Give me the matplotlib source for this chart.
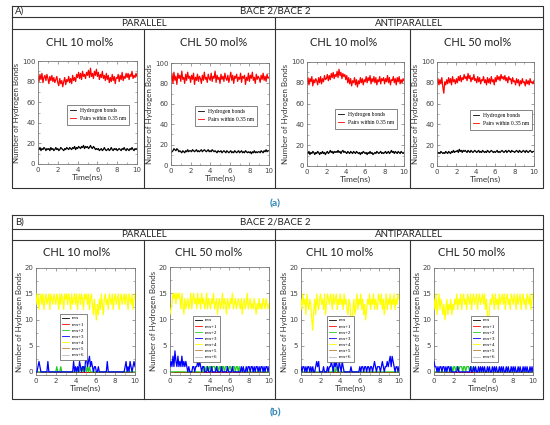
import numpy as np
import matplotlib
matplotlib.use('Agg')
import matplotlib.pyplot as plt
from matplotlib.lines import Line2D
from matplotlib.ticker import MultipleLocator

# ---------------- data (time step 0.1 ns, 0..10 ns) ----------------
time_step = 0.1

# Panel A: Hydrogen bonds (black) and pairs within 0.35 nm (red)
par10_pairs = [85,80,87,82,88,79,84,86,81,87, 83,78,85,81,86,80,84,79,82,85,
               79,76,83,78,81,75,80,84,77,82, 80,85,79,83,78,86,81,84,80,87,
               84,89,83,88,82,90,85,87,83,89, 86,91,84,93,85,88,83,90,86,92,
               85,89,82,87,84,90,83,86,81,88, 82,86,79,84,80,87,81,85,78,84,
               83,87,80,86,82,89,81,85,83,88, 84,88,82,87,85,90,83,86,84,88, 85]
par10_hb = [15,14,16,13,15,14,16,15,13,15, 14,15,13,16,14,15,13,14,16,14,
            15,13,14,16,15,14,13,15,14,16, 15,14,16,15,14,16,15,17,14,16,
            15,17,16,15,17,16,18,15,17,16, 17,15,16,18,16,15,17,16,14,15,
            14,15,13,14,15,13,14,16,14,13, 14,15,13,14,16,14,13,15,14,15,
            13,14,15,14,13,15,14,16,14,13, 15,14,13,15,14,16,14,13,15,14, 15]
par50_pairs = [84,89,80,91,83,87,79,90,85,88, 82,92,84,86,80,89,83,91,85,87,
               81,88,84,90,79,86,83,89,82,87, 85,80,88,83,91,84,86,81,89,85,
               83,90,82,87,85,92,81,88,84,86, 80,89,84,87,82,90,85,83,88,81,
               86,91,83,88,80,87,85,89,82,86, 84,90,81,87,85,88,79,86,83,90,
               82,88,85,91,83,86,80,89,84,87, 85,81,88,84,90,83,87,82,89,85, 86]
par50_hb = [12,13,14,16,15,14,16,15,13,14, 13,12,14,13,12,14,13,15,13,14,
            14,13,15,14,13,14,15,13,14,13, 14,15,13,14,15,14,13,14,15,13,
            14,13,15,14,13,14,13,12,14,13, 13,14,12,13,14,13,12,14,13,12,
            13,14,12,13,12,14,13,12,13,14, 12,13,14,12,13,12,14,13,12,13,
            12,13,11,13,12,14,12,13,12,13, 13,12,14,13,12,14,13,15,13,14, 14]
anti10_pairs = [80,85,78,84,81,86,77,83,80,84, 82,78,85,80,86,79,84,81,87,83,
                84,88,82,87,83,89,85,90,84,88, 86,91,85,93,87,90,84,89,86,88,
                83,87,80,85,79,84,77,82,80,85, 78,83,76,82,79,85,80,84,78,83,
                81,86,80,85,82,87,79,84,81,86, 80,85,78,83,81,86,79,84,82,85,
                79,84,81,87,80,85,78,83,82,86, 80,84,78,85,81,86,79,83,80,84, 82]
anti10_hb = [13,12,14,11,13,12,14,13,11,13, 12,14,13,11,13,12,14,12,13,11,
             13,14,12,13,15,13,14,12,14,13, 14,13,15,13,14,12,14,15,13,14,
             13,12,14,13,12,14,13,12,14,13, 12,14,13,12,13,11,13,12,14,13,
             12,13,11,13,12,14,12,13,11,12, 13,12,14,13,12,13,14,12,13,12,
             13,14,12,13,14,12,13,15,13,14, 12,14,13,12,14,13,12,14,13,12, 13]
anti50_pairs = [80,84,78,83,79,85,76,70,81,78, 83,79,85,80,84,78,86,81,83,79,
                84,80,86,82,87,81,85,83,88,84, 86,82,89,84,87,81,85,83,88,82,
                84,80,86,81,85,79,83,82,86,80, 83,78,85,80,84,79,86,81,83,78,
                85,81,87,83,86,82,88,84,86,83, 87,82,85,80,86,83,84,79,85,81,
                82,78,84,80,83,77,82,79,84,80, 81,77,83,79,82,78,84,80,81,79, 82]
anti50_hb = [14,12,13,12,14,13,12,13,12,14, 13,12,14,13,12,14,13,15,13,14,
             14,15,13,16,14,15,13,15,14,15, 14,13,15,14,13,15,14,13,14,15,
             14,13,14,15,13,14,13,15,14,13, 14,13,15,14,13,14,15,14,13,14,
             13,14,15,13,14,13,14,15,14,13, 14,15,13,14,15,14,13,15,14,14,
             13,14,15,14,13,15,14,13,14,15, 14,13,15,14,13,14,15,14,13,14, 14]

# Panel B: hydrogen bonds by residue spacing (n-n+2 green, n-n+3 blue, n-n+4 yellow)
par10_n4 = [15,13,15,12,14,15,13,15,12,14, 15,13,14,15,12,15,14,13,15,14,
            13,15,14,12,15,13,15,14,12,15, 14,15,13,15,14,12,15,13,14,15,
            13,15,12,14,15,13,15,14,12,15, 14,15,13,15,12,14,15,13,11,14,
            12,10,13,11,14,12,15,13,11,14, 15,13,14,12,15,14,13,15,12,14,
            15,13,14,15,12,14,15,13,14,15, 13,15,14,12,15,14,13,15,12,14, 15]
par10_n3 = [0,0,1,2,1,0,0,0,0,0, 0,0,2,0,0,0,0,0,0,0, 0,0,0,0,0,0,0,0,0,0,
            0,0,0,0,0,0,0,0,2,0, 1,0,1,0,2,1,0,1,1,0, 2,3,1,2,3,1,2,1,0,1,
            1,0,0,1,0,0,0,0,0,0, 0,0,2,0,0,0,0,0,0,0, 0,0,0,0,0,0,0,0,0,0,
            1,2,0,1,0,2,1,0,1,2, 1]
par10_n2 = [0,0,0,0,0,0,0,0,0,0, 0,0,0,0,0,0,0,0,0,0, 0,1,0,0,0,1,0,0,0,0,
            0,0,0,0,0,0,0,0,0,0, 0,0,0,0,0,1,0,1,0,1, 1,0,1,0,1,0,0,0,0,0,
            0,0,0,0,0,0,0,0,0,0, 0,0,0,0,0,0,0,0,0,0, 0,0,0,0,0,0,0,0,0,0,
            0,0,0,0,0,0,0,0,0,0, 0]
par50_n4 = [11,12,13,15,14,15,13,15,14,15, 14,12,15,13,11,14,12,13,14,12,
            13,15,12,14,15,13,14,12,15,13, 14,12,15,13,14,12,13,15,12,14,
            13,12,14,13,15,12,13,14,11,13, 14,12,13,15,12,14,13,11,14,13,
            12,14,13,15,12,13,14,12,13,14, 13,12,14,11,13,14,12,13,15,12,
            13,14,12,13,12,14,13,11,13,12, 14,12,13,12,14,13,12,14,13,12, 13]
par50_n3 = [1,2,1,3,1,4,2,1,3,1, 2,1,3,1,2,1,2,1,0,1, 0,0,0,1,1,0,1,1,2,1,
            2,1,0,1,1,0,0,0,1,0, 0,0,1,0,0,0,0,1,0,0, 0,0,1,0,0,0,0,0,1,0,
            0,0,0,1,0,0,0,0,0,0, 0,0,1,0,1,0,0,1,0,1, 1,0,1,1,0,1,0,1,1,0,
            1,0,1,1,0,1,0,1,1,0, 1]
par50_n2 = [0,0,0,0,0,0,0,0,0,0, 0,0,0,0,0,0,0,0,0,0, 0,0,0,0,0,0,0,0,0,0,
            0,0,0,0,0,1,0,1,1,0, 1,1,0,1,1,1,0,1,1,0, 1,1,0,1,1,0,1,1,1,0,
            1,1,0,0,1,1,0,1,1,0, 1,0,0,0,0,0,0,0,0,0, 0,0,0,0,0,0,0,0,0,0,
            0,0,0,0,0,0,0,0,0,0, 0]
anti10_n4 = [14,12,15,13,14,11,15,13,12,14, 13,10,8,12,14,11,15,13,12,14,
             15,13,14,12,15,11,13,15,14,13, 15,14,12,15,13,14,15,12,14,13,
             15,13,14,12,15,13,14,12,11,14, 13,10,9,12,14,11,13,15,12,14,
             13,15,12,14,11,13,10,12,14,13, 15,12,14,13,15,12,14,13,12,15,
             14,13,15,12,14,11,13,15,12,14, 13,15,12,14,13,15,12,14,13,15, 14]
anti10_n3 = [1,0,1,1,0,1,0,1,1,0, 1,0,1,0,0,1,2,1,2,0, 0,0,0,1,0,0,0,1,0,1,
             1,2,1,0,2,1,2,1,0,2, 1,0,2,1,0,0,0,0,0,0, 0,1,0,0,0,0,0,0,0,0,
             1,0,1,1,0,1,1,0,1,1, 0,1,1,0,1,2,1,0,1,1, 1,0,1,2,1,0,1,1,2,1,
             2,3,1,3,2,1,0,1,1,0, 1]
anti10_n2 = [0,0,0,0,0,0,0,0,0,0, 0,0,0,0,0,0,0,0,0,0, 0,0,0,0,0,0,0,0,0,0,
             0,0,0,1,0,0,1,0,0,0, 0,0,0,0,0,0,0,0,0,0, 0,0,0,0,0,0,0,0,0,0,
             0,0,0,0,0,0,0,0,0,0, 0,0,0,0,0,0,0,0,0,0, 0,0,0,0,0,0,0,0,0,0,
             0,0,0,0,0,0,0,0,0,0, 0]
anti50_n4 = [14,12,15,11,13,15,12,14,13,11, 13,10,12,14,11,13,12,14,11,13,
             12,14,13,15,12,14,13,15,12,14, 15,13,14,12,15,14,13,15,12,14,
             15,13,14,15,12,14,15,13,14,15, 13,15,12,14,11,9,12,14,13,15,
             14,12,15,13,14,12,15,13,14,15, 13,15,12,14,15,13,14,12,15,14,
             13,15,14,12,15,13,14,15,12,14, 15,13,14,12,15,14,13,15,12,14, 15]
anti50_n3 = [2,1,1,0,1,0,1,1,0,1, 1,0,1,0,1,1,0,1,0,0, 0,0,0,0,1,0,0,0,0,0,
             0,0,0,0,0,0,0,1,0,0, 1,0,1,0,0,1,0,1,0,1, 0,1,0,0,1,0,1,0,0,1,
             0,1,0,1,0,0,1,0,1,0, 1,0,0,1,0,1,0,0,1,0, 1,0,1,0,0,1,0,1,0,0,
             1,0,1,0,1,0,0,1,0,1, 0]
anti50_n2 = [0,0,0,0,0,0,0,0,0,0, 0,0,0,0,0,0,0,0,1,0, 1,1,0,1,1,0,1,1,1,0,
             1,1,0,1,1,1,0,1,1,0, 1,0,0,0,0,0,0,0,0,0, 0,0,0,0,0,0,0,0,0,0,
             0,0,0,0,0,0,0,0,0,0, 0,0,0,0,0,0,0,0,0,0, 0,0,0,0,0,0,0,0,0,0,
             0,0,0,0,0,0,0,0,0,0, 0]

cell_titles = ["CHL 10 mol%", "CHL 50 mol%", "CHL 10 mol%", "CHL 50 mol%"]
legend_A = ["Hydrogen bonds", "Pairs within 0.35 nm"]
legend_B = ["n-n", "n-n+1", "n-n+2", "n-n+3", "n-n+4", "n-n+5", "n-n+6"]
colors_B = ["#000000", "#ff0000", "#22cc22", "#0000ff", "#ffff00", "#c08040", "#bbbbbb"]

# ---------------- figure ----------------
W, H = 550, 425
fig = plt.figure(figsize=(5.5, 4.25), dpi=100)
fig.patch.set_facecolor('white')
UI = 'Lato'
BOX = '#333333'


def fx(x):
    return x / W


def fy(y):
    return 1 - y / H


def line(xs, ys, lw=0.8):
    fig.add_artist(Line2D([fx(v) for v in xs], [fy(v) for v in ys],
                          transform=fig.transFigure, lw=lw, color=BOX))


def draw_box(top, r1, r2, bottom, letter):
    L, R = 12, 543
    line([L, R, R, L, L], [top, top, bottom, bottom, top])
    line([L, R], [r1, r1])
    line([L, R], [r2, r2])
    line([275, 275], [r1, bottom])
    line([144, 144], [r2, bottom])
    line([410, 410], [r2, bottom])
    fig.text(fx(15), fy((top + r1) / 2), letter, fontsize=7, family=UI,
             ha='left', va='center', color='#222222')
    fig.text(fx(275), fy((top + r1) / 2), "BACE 2/BACE 2", fontsize=7, family=UI,
             ha='center', va='center', color='#222222')
    fig.text(fx(144), fy((r1 + r2) / 2), "PARALLEL", fontsize=7, family=UI,
             ha='center', va='center', color='#222222')
    fig.text(fx(409), fy((r1 + r2) / 2), "ANTIPARALLEL", fontsize=7, family=UI,
             ha='center', va='center', color='#222222')


def make_ax(l, r, t, b):
    ax = fig.add_axes([fx(l), fy(b), fx(r) - fx(l), fy(t) - fy(b)])
    for s in ax.spines.values():
        s.set_color('#777777')
        s.set_linewidth(0.6)
    ax.tick_params(which='both', direction='in', top=True, right=True,
                   colors='#777777', labelcolor='#444444', labelsize=5, pad=2)
    ax.tick_params(which='major', length=2.5, width=0.5)
    ax.tick_params(which='minor', length=1.3, width=0.4)
    ax.set_xlim(0, 10)
    ax.xaxis.set_major_locator(MultipleLocator(2))
    ax.xaxis.set_minor_locator(MultipleLocator(1))
    ax.set_xlabel("Time(ns)", fontsize=6, family=UI, color='#333333', labelpad=1)
    ax.set_ylabel("Number of Hydrogen Bonds", fontsize=5.8, family=UI,
                  color='#333333', labelpad=1)
    return ax


# ---------- Panel A ----------
draw_box(6, 17, 29, 188, "A)")
axA_pos = [(38, 137, 61, 164), (171, 269, 63, 165), (307, 404, 62, 166), (437, 534, 62, 166)]
cellA_x = [80, 214, 344, 478]
A_pairs = [par10_pairs, par50_pairs, anti10_pairs, anti50_pairs]
A_hb = [par10_hb, par50_hb, anti10_hb, anti50_hb]
legA_pos = [(64, 102), (192, 103), (332, 106), (467, 107)]
for i in range(4):
    ax = make_ax(*axA_pos[i])
    t = np.arange(len(A_pairs[i])) * time_step
    hb_line, = ax.plot(t, A_hb[i], color='black', lw=0.9)
    pr_line, = ax.plot(t, A_pairs[i], color='#ff0000', lw=0.9)
    ax.set_ylim(0, 100)
    ax.yaxis.set_major_locator(MultipleLocator(20))
    ax.yaxis.set_minor_locator(MultipleLocator(10))
    fig.text(fx(cellA_x[i]), fy(42), cell_titles[i], fontsize=8, family=UI,
             ha='center', va='center', color='#222222')
    lg = ax.legend([hb_line, pr_line], legend_A, loc='upper left',
                   bbox_to_anchor=(fx(legA_pos[i][0]), fy(legA_pos[i][1])),
                   bbox_transform=fig.transFigure,
                   prop={'family': 'Liberation Serif', 'size': 4.0},
                   handlelength=1.0, handletextpad=0.7, borderpad=0.6,
                   labelspacing=0.55, fancybox=False, framealpha=1)
    lg.get_frame().set_edgecolor('#555555')
    lg.get_frame().set_linewidth(0.5)
    for h in lg.legend_handles:
        h.set_linewidth(0.6)

fig.text(fx(275), fy(204), "(a)", fontsize=7.5, family=UI, fontweight='bold',
         ha='center', va='center', color='#2e86b8')

# ---------- Panel B ----------
draw_box(215, 229, 240, 399, "B)")
axB_pos = [(36, 135, 268, 375), (170, 269, 267, 375), (301, 399, 268, 375), (434, 533, 268, 375)]
cellB_x = [77, 209, 340, 472]
B_n4 = [par10_n4, par50_n4, anti10_n4, anti50_n4]
B_n3 = [par10_n3, par50_n3, anti10_n3, anti50_n3]
B_n2 = [par10_n2, par50_n2, anti10_n2, anti50_n2]
legB_pos = [(57, 311), (190, 313), (324, 313), (468, 313)]
for i in range(4):
    ax = make_ax(*axB_pos[i])
    t = np.arange(len(B_n4[i])) * time_step
    zeros = [0] * len(t)
    handles = []
    series = [zeros, zeros, B_n2[i], B_n3[i], B_n4[i], zeros, zeros]
    zord = [1, 1, 2, 3, 4, 0.5, 0.5]
    lws = [0.6, 0.6, 0.9, 0.9, 0.9, 0.6, 0.6]
    for k in range(7):
        h, = ax.plot(t, series[k], color=colors_B[k], lw=lws[k], zorder=zord[k])
        handles.append(h)
    ax.set_ylim(-0.6, 20)
    ax.yaxis.set_major_locator(MultipleLocator(5))
    ax.yaxis.set_minor_locator(MultipleLocator(2.5))
    fig.text(fx(cellB_x[i]), fy(253), cell_titles[i], fontsize=8, family=UI,
             ha='center', va='center', color='#222222')
    lg = ax.legend(handles, legend_B, loc='upper left',
                   bbox_to_anchor=(fx(legB_pos[i][0]), fy(legB_pos[i][1])),
                   bbox_transform=fig.transFigure,
                   prop={'family': 'Liberation Serif', 'size': 3.7},
                   handlelength=1.4, handletextpad=0.6, borderpad=0.45,
                   labelspacing=0.3, fancybox=False, framealpha=1)
    lg.get_frame().set_edgecolor('#555555')
    lg.get_frame().set_linewidth(0.5)
    for h in lg.legend_handles:
        h.set_linewidth(0.6)
    lg.set_zorder(10)

fig.text(fx(275), fy(413), "(b)", fontsize=7.5, family=UI, fontweight='bold',
         ha='center', va='center', color='#2e86b8')

fig.savefig('out.png', dpi=100)
